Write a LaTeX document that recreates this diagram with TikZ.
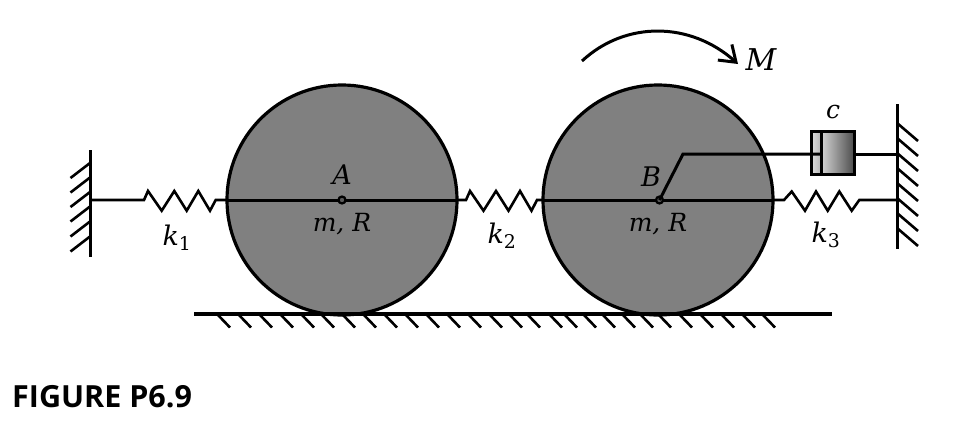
\documentclass[tikz,border=0pt]{standalone}
\usepackage{fontspec}
\setmainfont{DejaVu Serif}
\newfontfamily\capfont{Open Sans}
\usetikzlibrary{arrows.meta}
\tikzset{
  line/.style={line width=3pt,black,line join=miter},
  thin line/.style={line width=2.6pt,black},
  hatch/.style={line width=2.6pt,black},
  disk/.style={circle,draw=black,line width=3.2pt,fill={rgb,255:red,128;green,128;blue,128},minimum size=230pt,inner sep=0pt,outer sep=0pt},
  pin/.style={circle,draw=black,line width=2.2pt,fill={rgb,255:red,90;green,90;blue,90},minimum size=7pt,inner sep=0pt,outer sep=0pt},
  lab/.style={font=\fontsize{25}{27}\selectfont\itshape,inner sep=0pt,text=black},
  big lab/.style={lab,font=\fontsize{27}{29}\selectfont\itshape},
  cyl/.style={draw=black,line width=3pt,minimum height=43pt,inner sep=0pt,outer sep=0pt},
}
\begin{document}
\begin{tikzpicture}[x=1pt,y=-1pt]
\useasboundingbox (0,0) rectangle (966,432);
% disks
\node[disk] (dA) at (342,200) {};
\node[disk] (dB) at (658,200) {};
% ground
\coordinate (g1) at (194,314);
\coordinate (g2) at (832,314);
\draw[line width=3.4pt] (g1) -- (g2);
\foreach \x in {218,239,260,281,302,322,343,364,385,406,427,448,469,490,510,528,550,565,584,603,623,641,659,680,701,722,743,763}
  \draw[hatch] (\x,315) -- ++(12,12.5);
% walls
\coordinate (wL1) at (90,150);
\coordinate (wL2) at (90,257);
\coordinate (wLs) at (90,200);
\draw[line] (wL1) -- (wL2);
\foreach \y in {163,177.5,192,206.5,221.5,236.5}
  \draw[hatch] (90,\y) -- ++(-19.5,15);
\coordinate (wR1) at (897,104);
\coordinate (wR2) at (897,249);
\coordinate (wRs) at (897,200);
\coordinate (wRd) at (897,154);
\draw[line] (wR1) -- (wR2);
\foreach \y in {123,138,153,168,183,198,213,228}
  \draw[hatch] (897,\y) -- ++(21,18);
% springs
\draw[thin line] (wLs) -- (144,200) -- (148,191) -- (161.7,210.7) -- (174.3,191) -- (186.7,210.7) -- (198.3,191) -- (210,210.7) -- (215.7,200) -- (dA.west);
\draw[thin line] (dA.east) -- (466,200) -- (470,191) -- (483.5,210.7) -- (496,191) -- (508.5,210.7) -- (520,191) -- (531.5,210.7) -- (537,200) -- (dB.west);
\draw[thin line] (dB.east) -- (784,200) -- (791.7,191.5) -- (805,210.7) -- (816,191.5) -- (827.7,210.7) -- (839.3,191.5) -- (851.7,210.7) -- (859.3,200) -- (wRs);
% axle lines
\draw[line] (dA.west) -- (dA.east);
\draw[line] (dB.west) -- (dB.east);
% pins
\node[pin] (pA) at (342,200) {};
\node[pin] (pB) at (659.5,200) {};
% dashpot
\node[cyl,minimum width=43.3pt,fill=white] (cbox) at (833.3,152.8) {};
\node[minimum width=9pt,minimum height=41pt,inner sep=0pt,left color=white!85!black,right color=white!70!black] (crod) at (817,152.8) {};
\node[minimum width=31pt,minimum height=41pt,inner sep=0pt,left color=white!80!black,right color=white!30!black] (cbody) at (838.5,152.8) {};
\draw[cyl] (cbox.south west) rectangle (cbox.north east);
\coordinate (pist) at (821.7,154);
\draw[line] (pist |- cbox.north) -- (pist |- cbox.south);
\coordinate (kink) at (683,154);
\draw[line] (pB.center) -- (kink) -- (pist);
\draw[line] (cbox.east |- wRd) -- (wRd);
% moment
\coordinate (m1) at (582,61);
\coordinate (m2) at (738,64);
\draw[line width=3pt,-{Straight Barb[length=15pt,width=21pt,line width=3pt]}] (m1) .. controls (625,21) and (690,21) .. (m2);
% labels
\node[lab,font=\fontsize{30}{32}\selectfont\itshape] (lM) at (761,60) {M};
\node[big lab] (lA) at (342,175) {A};
\node[big lab] (lB) at (651,177) {B};
\node[lab] (lmA) at (342,224) {m, R};
\node[lab] (lmB) at (658,224) {m, R};
\node[lab] (lc) at (833,112) {c};
\node[big lab] (lk1) at (177,238) {k\textsubscript{\normalfont 1}};
\node[big lab] (lk2) at (502,236) {k\textsubscript{\normalfont 2}};
\node[big lab] (lk3) at (826,235) {k\textsubscript{\normalfont 3}};
\node[anchor=west,inner sep=0pt,font=\capfont\bfseries\fontsize{30.5}{32}\selectfont] (cap) at (12,397) {FIGURE P6.9};
\end{tikzpicture}
\end{document}
